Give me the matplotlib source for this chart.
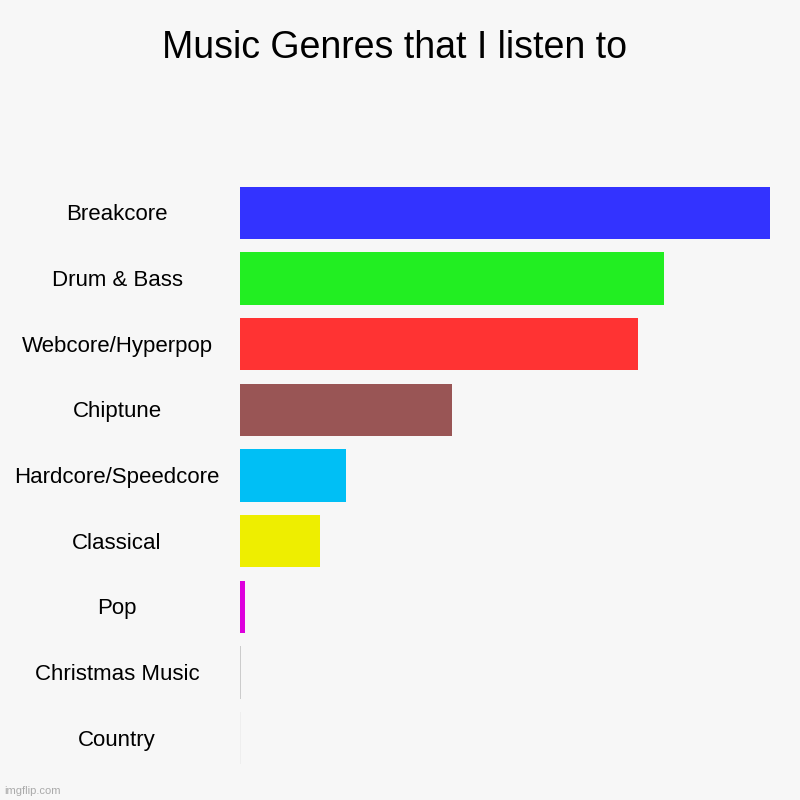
import matplotlib.pyplot as plt
import matplotlib.transforms as mtransforms

genres = [
    "Breakcore",
    "Drum & Bass",
    "Webcore/Hyperpop",
    "Chiptune",
    "Hardcore/Speedcore",
    "Classical",
    "Pop",
    "Christmas Music",
    "Country",
]
values = [100, 80, 75, 40, 20, 15, 1, 0.2, 0.1]
colors = [
    "#3333ff",
    "#22ee22",
    "#ff3333",
    "#995555",
    "#00bff5",
    "#eeee00",
    "#dd00dd",
    "#cccccc",
    "#eeeeee",
]

BG = "#f7f7f7"
plt.rcParams["font.family"] = ["Liberation Sans", "DejaVu Sans"]

fig = plt.figure(figsize=(8, 8), dpi=100, facecolor=BG)
ax = fig.add_axes([240 / 800, 1 - 771 / 800, 530 / 800, (771 - 180) / 800])
ax.set_facecolor(BG)

y = list(range(len(genres)))
ax.barh(y, values, height=0.8, color=colors, edgecolor="none")
ax.set_xlim(0, 100)
ax.set_ylim(len(genres) - 0.5, -0.5)
ax.axis("off")

# labels sit a touch below the bar centre in the original
trans = mtransforms.blended_transform_factory(fig.transFigure, ax.transData)
for yi, name in zip(y, genres):
    ax.text(117 / 800, yi + 0.03, name, transform=trans, ha="center", va="center",
            fontsize=16, color="#000000")

fig.text(395 / 800, 1 - 48 / 800, "Music Genres that I listen to",
         ha="center", va="center", fontsize=27, color="#000000")
fig.text(4 / 800, 1 - 791 / 800, "imgflip.com", ha="left", va="center",
         fontsize=8, color="#aaaaaa")

fig.savefig("out.png", dpi=100, facecolor=BG)
